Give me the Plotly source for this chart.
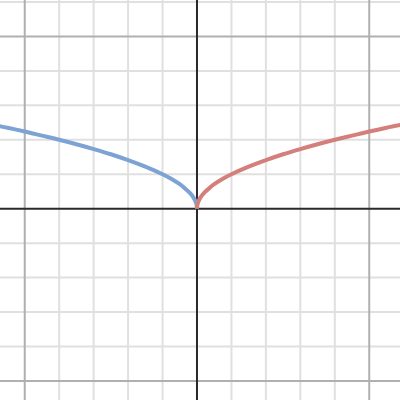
import plotly.graph_objects as go

# Readings from the picture (graph units)
right_x = [0, 0.01, 0.04, 0.1, 0.2, 0.35, 0.5, 0.75, 1, 1.5, 2, 2.5, 3, 3.5, 4, 4.5, 5, 5.5, 6]
right_y = [0, 0.1, 0.2, 0.32, 0.45, 0.59, 0.71, 0.87, 1, 1.22, 1.41, 1.58, 1.73, 1.87, 2, 2.12, 2.24, 2.35, 2.45]
left_x = [0, -0.01, -0.04, -0.1, -0.2, -0.35, -0.5, -0.75, -1, -1.5, -2, -2.5, -3, -3.5, -4, -4.5, -5, -5.5, -6]
left_y = [0, 0.1, 0.2, 0.32, 0.45, 0.59, 0.71, 0.87, 1, 1.22, 1.41, 1.58, 1.73, 1.87, 2, 2.12, 2.24, 2.35, 2.45]

x_range = [-5.718, 5.893]
y_range = [-5.553, 6.058]

minor_vals = [v for v in range(-7, 8) if v % 5 != 0]
major_vals = [-5, 5]

fig = go.Figure()

# grid lines as traces
for v in minor_vals:
    fig.add_trace(go.Scatter(x=[v, v], y=[-10, 10], mode="lines",
                             line=dict(color="#e0e0e0", width=2), hoverinfo="skip", showlegend=False))
    fig.add_trace(go.Scatter(x=[-10, 10], y=[v, v], mode="lines",
                             line=dict(color="#e0e0e0", width=2), hoverinfo="skip", showlegend=False))
for v in major_vals:
    fig.add_trace(go.Scatter(x=[v, v], y=[-10, 10], mode="lines",
                             line=dict(color="#b0b0b0", width=2), hoverinfo="skip", showlegend=False))
    fig.add_trace(go.Scatter(x=[-10, 10], y=[v, v], mode="lines",
                             line=dict(color="#b0b0b0", width=2), hoverinfo="skip", showlegend=False))
# axes
fig.add_trace(go.Scatter(x=[0, 0], y=[-10, 10], mode="lines",
                         line=dict(color="#2a2a2a", width=2), hoverinfo="skip", showlegend=False))
fig.add_trace(go.Scatter(x=[-10, 10], y=[0, 0], mode="lines",
                         line=dict(color="#2a2a2a", width=2), hoverinfo="skip", showlegend=False))

fig.add_trace(go.Scatter(x=left_x, y=left_y, mode="lines", line=dict(color="#7ca3d4", width=4, shape="spline"),
                         showlegend=False))
fig.add_trace(go.Scatter(x=right_x, y=right_y, mode="lines", line=dict(color="#d47f7b", width=4, shape="spline"),
                         showlegend=False))

fig.update_layout(
    width=400, height=400,
    margin=dict(l=0, r=0, t=0, b=0),
    paper_bgcolor="white", plot_bgcolor="white",
    xaxis=dict(range=x_range, showgrid=False, zeroline=False, showticklabels=False, ticks="", fixedrange=True),
    yaxis=dict(range=y_range, showgrid=False, zeroline=False, showticklabels=False, ticks="", fixedrange=True),
)

fig.write_html("out.html", config={"displayModeBar": False},
               post_script="document.body.style.margin='0';document.body.style.overflow='hidden';")
